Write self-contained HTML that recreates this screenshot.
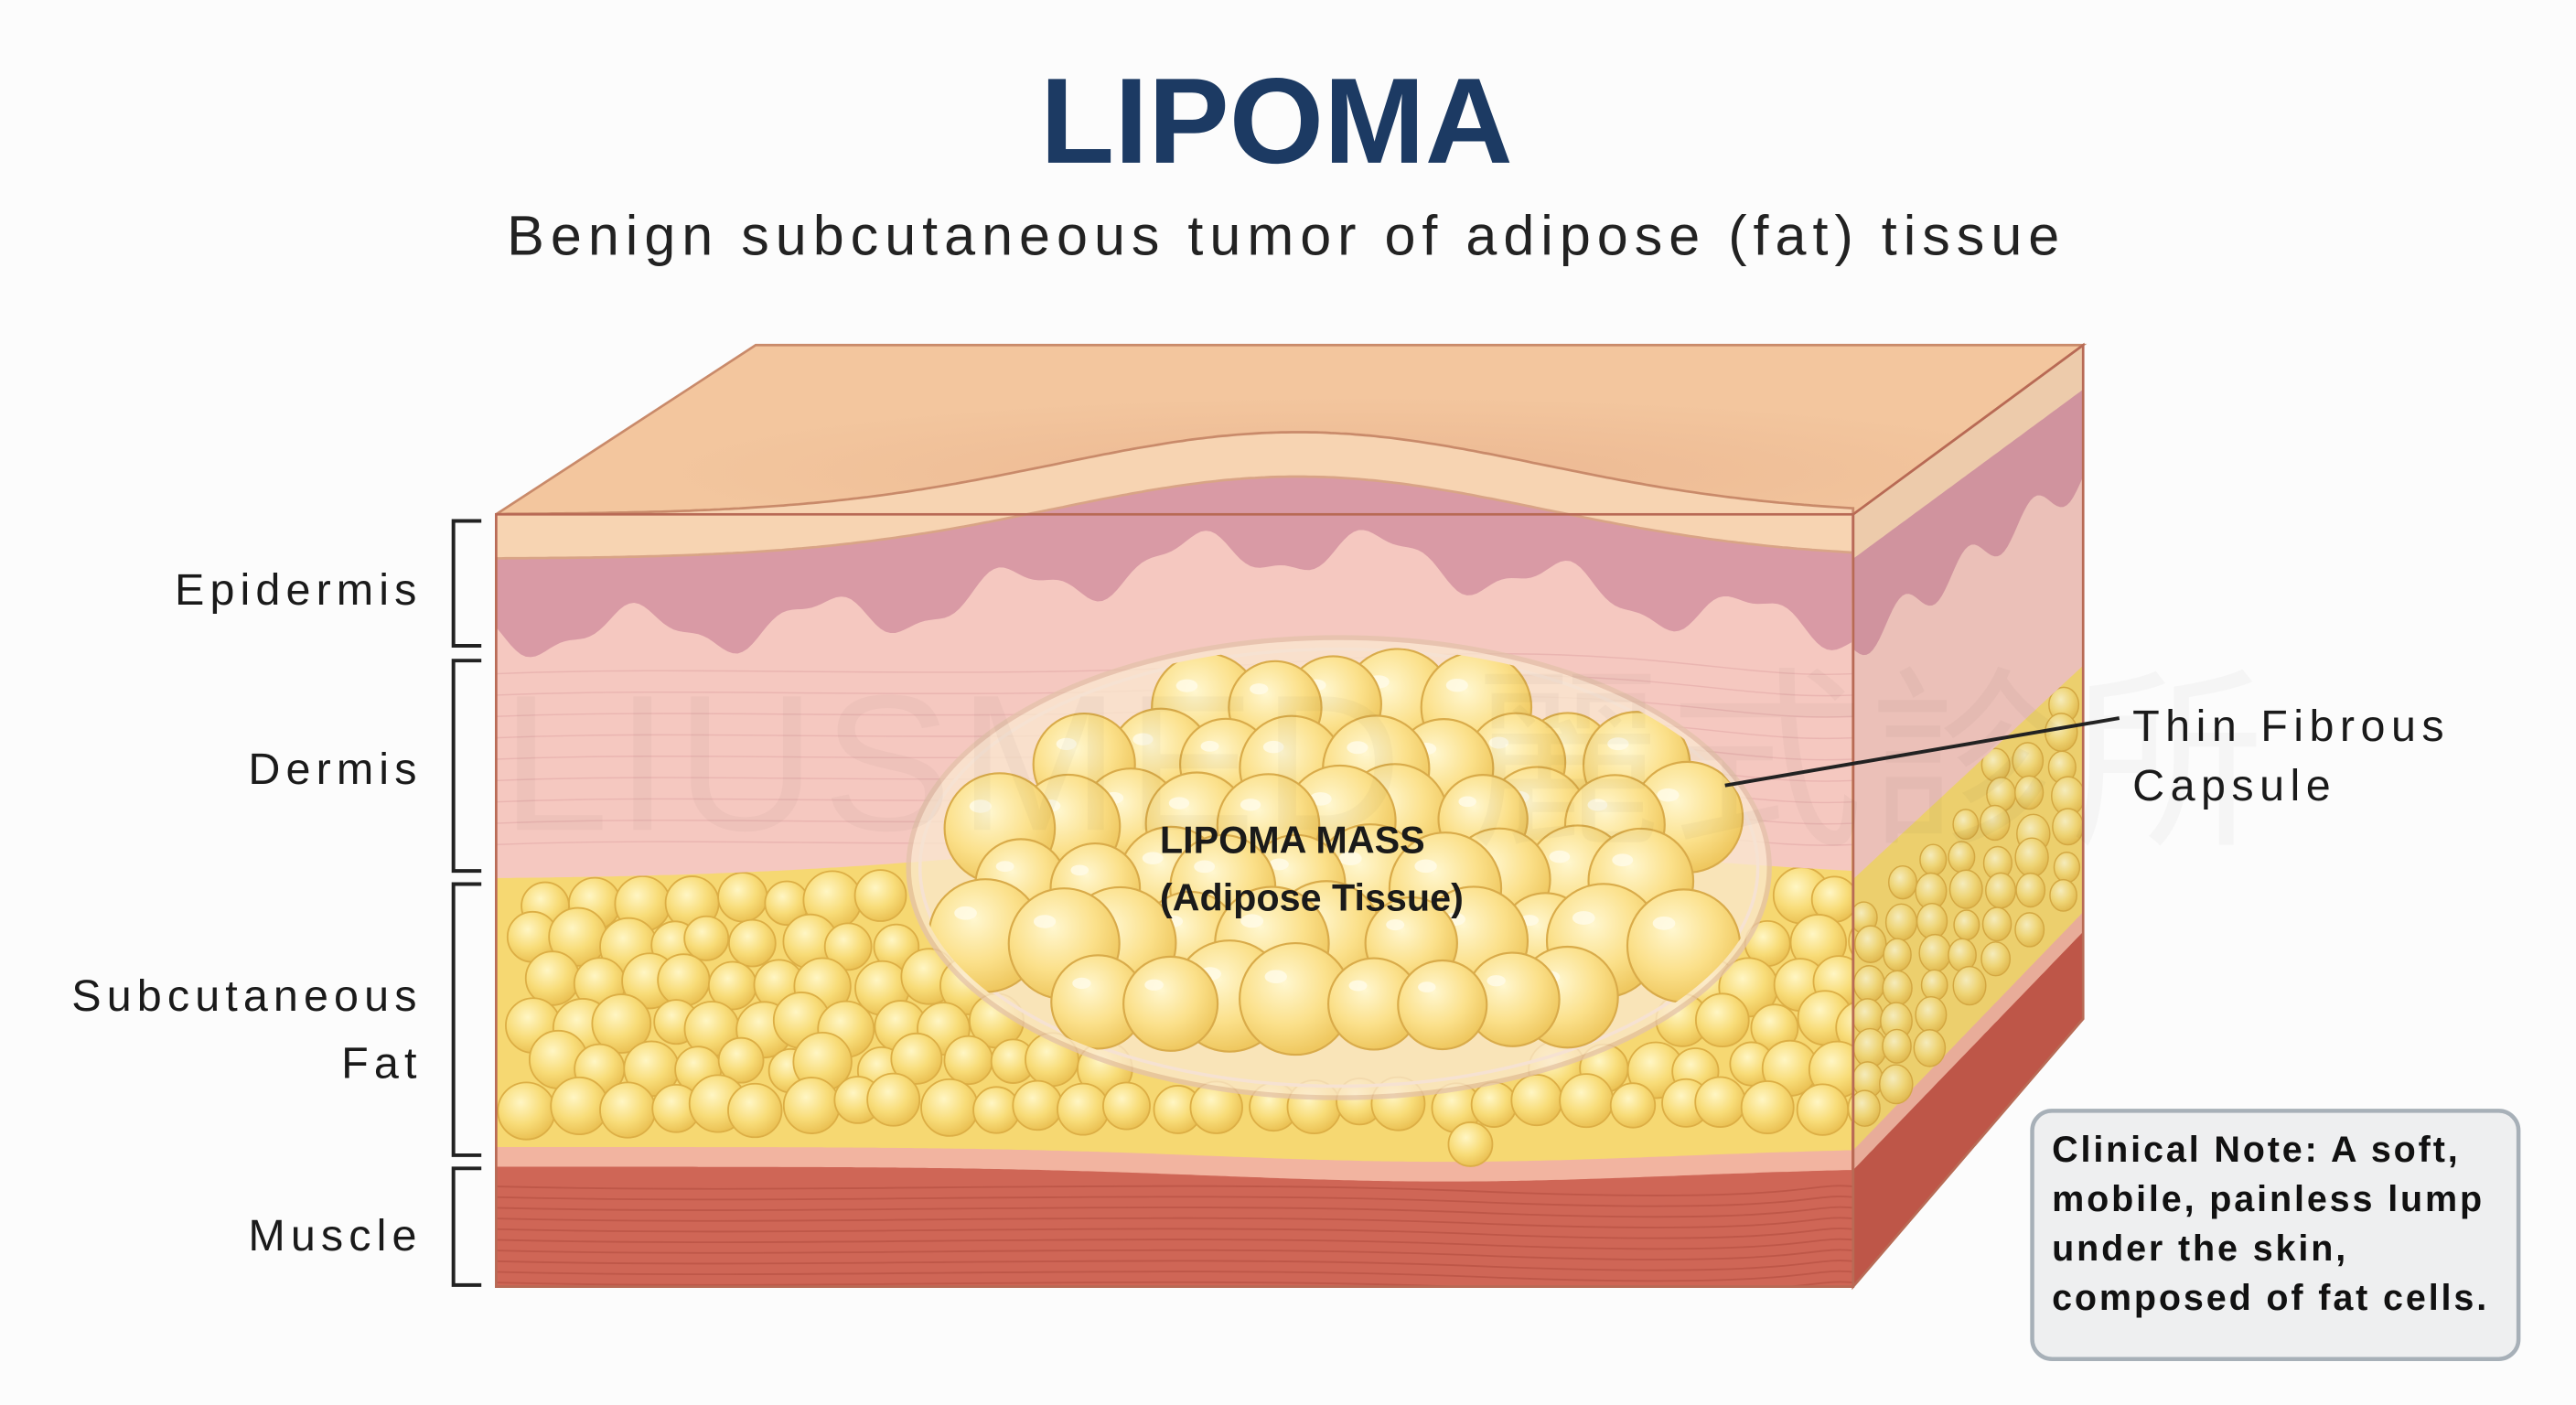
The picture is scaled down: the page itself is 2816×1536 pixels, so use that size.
<!DOCTYPE html>
<html><head><meta charset="utf-8">
<style>
html,body{margin:0;padding:0;background:#fcfcfc;}
svg{display:block;}
text{font-family:"Liberation Sans","Noto Sans CJK TC",sans-serif;}
</style></head>
<body>
<svg id="s" width="2816" height="1536" viewBox="0 0 1568 855" preserveAspectRatio="none" xmlns="http://www.w3.org/2000/svg">
<defs>
<radialGradient id="fc" cx="40%" cy="35%" r="65%">
<stop offset="0" stop-color="#fff6c4"/><stop offset="0.6" stop-color="#f8dc78"/><stop offset="1" stop-color="#ebc255"/>
</radialGradient>
<radialGradient id="lc" cx="40%" cy="35%" r="65%">
<stop offset="0" stop-color="#fff7d0"/><stop offset="0.6" stop-color="#fbe08a"/><stop offset="1" stop-color="#efc860"/>
</radialGradient>
<radialGradient id="mound" cx="55%" cy="75%" r="45%">
<stop offset="0" stop-color="#ecb892"/><stop offset="1" stop-color="#f3c69e"/>
</radialGradient>
<clipPath id="front"><path id="fclip" d=""/></clipPath>
<clipPath id="right"><polygon points="1128,313 1268,210 1268,620 1128,783"/></clipPath>
<clipPath id="ell"><ellipse cx="815" cy="528" rx="258" ry="135"/></clipPath>
</defs>
<rect width="1568" height="855" fill="#fcfcfc"/>
<text x="777" y="99" text-anchor="middle" font-size="74" font-weight="bold" fill="#1c3a63">LIPOMA</text>
<text x="783" y="155" text-anchor="middle" font-size="34" letter-spacing="3.9" fill="#222">Benign subcutaneous tumor of adipose (fat) tissue</text>
<g id="front-g" clip-path="url(#front)"></g>
<g id="right-g" clip-path="url(#right)"></g>
<g id="top-g"></g>
<g id="lip"></g>
<text x="305" y="505" font-size="118" fill="#000" opacity="0.025" letter-spacing="4">LIUSMED 麗式診所</text>
<text x="706" y="519" font-size="23" font-weight="bold" fill="#1a1a1a">LIPOMA MASS</text>
<text x="706" y="554" font-size="23" font-weight="bold" fill="#1a1a1a">(Adipose Tissue)</text>
<g stroke="#222" stroke-width="2.2" fill="none">
<path d="M293,317 H276 V393 H293"/>
<path d="M293,402 H276 V530 H293"/>
<path d="M293,538 H276 V703 H293"/>
<path d="M293,711 H276 V782 H293"/>
<path d="M1050,478 L1290,437"/>
</g>
<g font-size="27" fill="#1a1a1a" letter-spacing="3.4" text-anchor="end">
<text x="257" y="368">Epidermis</text>
<text x="257" y="477">Dermis</text>
<text x="257" y="615">Subcutaneous</text>
<text x="257" y="656">Fat</text>
<text x="257" y="761">Muscle</text>
</g>
<g font-size="27" fill="#1a1a1a" letter-spacing="3.6">
<text x="1298" y="451">Thin Fibrous</text>
<text x="1298" y="487">Capsule</text>
</g>
<rect x="1237" y="676" width="296" height="151" rx="12" fill="#eeeff0" stroke="#a7b0b8" stroke-width="2.5"/>
<g font-size="22" font-weight="bold" fill="#111" letter-spacing="1.6">
<text x="1249" y="707">Clinical Note: A soft,</text>
<text x="1249" y="737">mobile, painless lump</text>
<text x="1249" y="767">under the skin,</text>
<text x="1249" y="797">composed of fat cells.</text>
</g>
</svg>
<script>
var NS="http://www.w3.org/2000/svg";
function el(p,t,a){var e=document.createElementNS(NS,t);for(var k in a)e.setAttribute(k,a[k]);p.appendChild(e);return e;}
var seed=7;function rnd(){seed=(seed*16807)%2147483647;return seed/2147483647;}
function E(x){return 313-50*Math.exp(-Math.pow((x-790)/210,2));}
function epiTop(x){return E(x)+27;}
function epiBot(x){return E(x)+72+13*Math.sin((x-302)/18)+4*Math.sin(x/7);}
function dermBot(x){return 535-25*Math.exp(-Math.pow((x-800)/260,2));}
function fatBot(x){return 698+9*Math.exp(-Math.pow((x-880)/200,2));}
function lineBot(x){return fatBot(x)+12;}
var cd="M302,783 L302,313";for(var x=302;x<=1128;x+=3)cd+=" L"+x+","+E(x).toFixed(1);cd+=" L1128,313 L1128,783 Z";
document.getElementById("fclip").setAttribute("d",cd);
function above(f,c,g){var d="M302,150";for(var x=302;x<=1128;x+=3)d+=" L"+x+","+f(x).toFixed(1);d+=" L1128,150 Z";el(g,"path",{d:d,fill:c});}
var F=document.getElementById("front-g");
el(F,"rect",{x:302,y:200,width:826,height:583,fill:"#cf6656"});
for(var i=0;i<10;i++){var y=722+i*6.5;el(F,"path",{d:"M302,"+y+" C500,"+(y+5)+" 700,"+(y-5)+" 900,"+(y+3)+" S1100,"+(y-3)+" 1128,"+y,stroke:"#b24c40","stroke-width":1,fill:"none",opacity:0.6});}
above(lineBot,"#f2b4a0",F);
above(fatBot,"#f6d872",F);
for(var yy=548;yy<700;yy+=25){for(var xx=310;xx<1128;xx+=28){var x=xx+rnd()*10-5+((yy/25)%2)*14,y=yy+rnd()*8-4,r=13+rnd()*5;
if(y-r<dermBot(x)-4||y+r>fatBot(x)+3)continue;
var dx=(x-815)/262,dy=(y-528)/140;if(dx*dx+dy*dy<1.0)continue;
el(F,"circle",{cx:x,cy:y,r:r,fill:"url(#fc)",stroke:"#dcae45","stroke-width":1});}}
above(dermBot,"#f5c8c0",F);
for(var i=0;i<9;i++){var y=410+i*13;el(F,"path",{d:"M302,"+y+" C450,"+(y-6)+" 600,"+(y+6)+" 800,"+(y-8)+" S1050,"+(y+4)+" 1128,"+y,stroke:"#e3a9a6","stroke-width":0.8,fill:"none",opacity:0.6});}
above(epiBot,"#d99aa5",F);
above(epiTop,"#f7d4b2",F);
el(F,"path",{d:(function(){var d="M302,"+epiTop(302);for(var x=302;x<=1128;x+=3)d+=" L"+x+","+epiTop(x).toFixed(1);return d;})(),stroke:"#d9a486","stroke-width":1.5,fill:"none"});
var R=document.getElementById("right-g");
function rp(a,b,wave){var d="M1120,"+(a+10)+" L1120,100 L1280,100 L1280,"+(b-14);for(var x=1268;x>=1128;x-=2){var u=(x-1128)/140;var y=a+(b-a)*u+(wave?wave*Math.sin(u*22):0);d+=" L"+x+","+y.toFixed(1);}return d+" Z";}
el(R,"rect",{x:1120,y:200,width:160,height:600,fill:"#c65a4b"});
el(R,"path",{d:rp(712,567),fill:"#f2b4a0"});
el(R,"path",{d:rp(700,555),fill:"#f6d872"});
for(var yy=520;yy<700;yy+=20){for(var xx=1134;xx<1268;xx+=20){var u=(xx-1128)/140;var y=yy-130*u+rnd()*6;var x=xx+rnd()*5;var r=9+rnd()*3;
if(y-r<535-130*u||y+r>700-145*u)continue;el(R,"ellipse",{cx:x,cy:y,rx:r*0.85,ry:r,fill:"url(#fc)",stroke:"#dcae45","stroke-width":0.8});}}
el(R,"path",{d:rp(535,405),fill:"#f5c8c0"});
el(R,"path",{d:rp(395,290,10),fill:"#d99aa5"});
el(R,"path",{d:rp(340,237),fill:"#f7d4b2"});
el(R,"path",{d:rp(313,210),fill:"#fcfcfc"});
el(R,"polygon",{points:"1128,313 1268,210 1268,620 1128,783",fill:"#000",opacity:0.04});
var T=document.getElementById("top-g");
var d="M302,313 L460,210 L1268,210 L1128,313";for(var x=1128;x>=302;x-=3)d+=" L"+x+","+E(x).toFixed(1);d+=" Z";
el(T,"path",{d:d,fill:"url(#mound)",stroke:"#c98a6a","stroke-width":1.5});
el(T,"rect",{x:302,y:313,width:826,height:470,fill:"none",stroke:"#b86a55","stroke-width":1.5});
el(T,"polygon",{points:"1128,313 1268,210 1268,620 1128,783",fill:"none",stroke:"#b86a55","stroke-width":1.5});
var L=document.getElementById("lip");
el(L,"ellipse",{cx:815,cy:528,rx:262,ry:140,fill:"#fbe9d0",opacity:0.75,stroke:"#e4c2aa","stroke-width":3});
el(L,"ellipse",{cx:815,cy:528,rx:255,ry:133,fill:"none",stroke:"#f6e2d2","stroke-width":2});
var g=el(L,"g",{"clip-path":"url(#ell)"});
var pts=[];
for(var yy=425;yy<650;yy+=36){for(var xx=565;xx<1080;xx+=42){var x=xx+rnd()*12-6+((yy/36)%2)*21,y=yy+rnd()*8;var dx=(x-815)/230,dy=(y-530)/112;if(dx*dx+dy*dy>1)continue;pts.push([x,y,27+rnd()*8]);}}
pts.sort(function(a,b){return a[1]-b[1];});
pts.forEach(function(p){el(g,"circle",{cx:p[0],cy:p[1],r:p[2],fill:"url(#lc)",stroke:"#d9ab4a","stroke-width":1.2});el(g,"ellipse",{cx:p[0]-p[2]*0.35,cy:p[1]-p[2]*0.4,rx:p[2]*0.2,ry:p[2]*0.12,fill:"#fffbe8",opacity:0.8});});
</script>
</body></html>
